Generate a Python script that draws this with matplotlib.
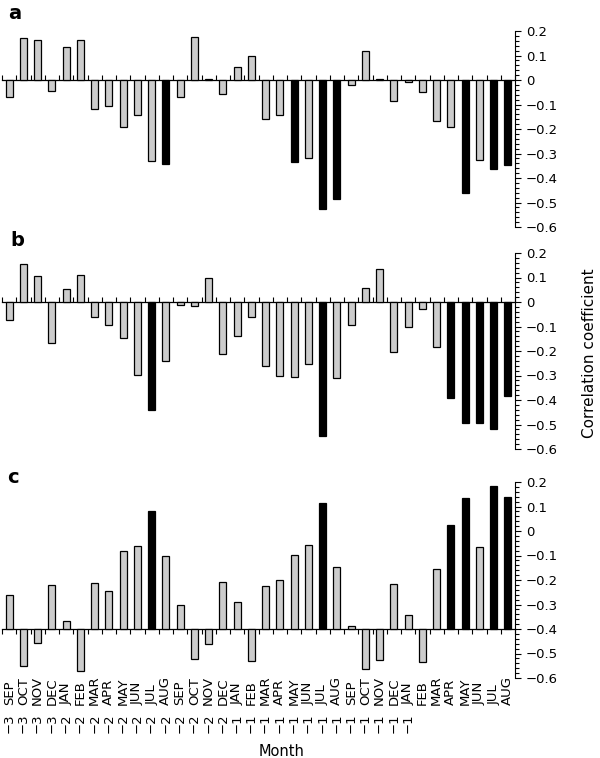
import matplotlib
matplotlib.use('Agg')
import matplotlib.pyplot as plt
import matplotlib.ticker as mticker
from matplotlib.transforms import blended_transform_factory

# month axis: 36 months, year offset printed under the month name
MONTHS = ['SEP', 'OCT', 'NOV', 'DEC',
          'JAN', 'FEB', 'MAR', 'APR', 'MAY', 'JUN', 'JUL', 'AUG', 'SEP', 'OCT', 'NOV', 'DEC',
          'JAN', 'FEB', 'MAR', 'APR', 'MAY', 'JUN', 'JUL', 'AUG', 'SEP', 'OCT', 'NOV', 'DEC',
          'JAN', 'FEB', 'MAR', 'APR', 'MAY', 'JUN', 'JUL', 'AUG']
YEARS = ['−3'] * 4 + ['−2'] * 12 + ['−1'] * 13 + [''] * 7

# correlation coefficients
CORR_A = [-0.07, 0.17, 0.163, -0.045, 0.135, 0.163, -0.118, -0.106, -0.193, -0.143,
          -0.331, -0.344, -0.069, 0.175, 0.005, -0.057, 0.053, 0.098, -0.159, -0.143,
          -0.336, -0.318, -0.528, -0.487, -0.02, 0.118, 0.005, -0.087, -0.008, -0.049,
          -0.167, -0.193, -0.463, -0.328, -0.365, -0.348]
CORR_B = [-0.074, 0.156, 0.107, -0.168, 0.053, 0.111, -0.061, -0.094, -0.148, -0.299,
          -0.44, -0.242, -0.012, -0.016, 0.098, -0.213, -0.139, -0.061, -0.262, -0.303,
          -0.307, -0.254, -0.545, -0.311, -0.094, 0.057, 0.135, -0.205, -0.102, -0.029,
          -0.184, -0.391, -0.493, -0.493, -0.52, -0.383]
CORR_C = [-0.262, -0.551, -0.457, -0.222, -0.369, -0.571, -0.214, -0.246, -0.083, -0.062,
          0.082, -0.103, -0.303, -0.524, -0.46, -0.21, -0.291, -0.531, -0.226, -0.201,
          -0.099, -0.057, 0.114, -0.148, -0.389, -0.563, -0.527, -0.218, -0.344, -0.533,
          -0.156, 0.024, 0.135, -0.067, 0.184, 0.139]

# months with significant correlation (black bars)
SIG_A = [11, 20, 22, 23, 32, 34, 35]
SIG_B = [10, 22, 31, 32, 33, 34, 35]
SIG_C = [10, 22, 31, 32, 34, 35]

BASE = [0.0, 0.0, -0.4]          # line the bars hang from in each panel
YTICKS = [0.2, 0.1, 0.0, -0.1, -0.2, -0.3, -0.4, -0.5, -0.6]
PANELS = ['a', 'b', 'c']

GREY = '#cccccc'
plt.rcParams['font.family'] = ['DejaVu Sans']

W, H = 600, 758
fig = plt.figure(figsize=(W / 100, H / 100), dpi=100)

tops = [31, 253, 482]          # pixel row of 0.2 for each panel
ax_h = 196
x0, x1 = 2, 515

data = [(CORR_A, SIG_A), (CORR_B, SIG_B), (CORR_C, SIG_C)]
axes = []
for k, (vals, sig) in enumerate(data):
    ax = fig.add_axes([x0 / W, 1 - (tops[k] + ax_h) / H, (x1 - x0) / W, ax_h / H])
    axes.append(ax)
    base = BASE[k]
    n = len(vals)
    idx = list(range(n))
    colors = ['black' if i in sig else GREY for i in idx]
    ax.bar(idx, [v - base for v in vals], bottom=base, width=0.5,
           color=colors, edgecolor='black', linewidth=0.9, zorder=3)

    ax.set_xlim(-0.5, n - 0.5)
    ax.set_ylim(-0.6, 0.2)

    for s in ['left', 'top']:
        ax.spines[s].set_visible(False)
    ax.spines['bottom'].set_position(('data', base))
    ax.spines['bottom'].set_linewidth(0.9)
    ax.spines['right'].set_linewidth(0.8)

    ax.set_xticks([i - 0.5 for i in range(n + 1)])
    ax.tick_params(axis='x', direction='in' if base == 0 else 'out',
                   length=3.6, width=0.8, labelbottom=False)

    ax.yaxis.tick_right()
    ax.yaxis.set_major_locator(mticker.FixedLocator(YTICKS))
    ax.yaxis.set_major_formatter(mticker.FixedFormatter(
        [f'{round(v, 1):g}'.replace('-', '−') for v in YTICKS]))
    ax.yaxis.set_minor_locator(mticker.MultipleLocator(0.02))
    ax.tick_params(axis='y', which='major', direction='out', length=4.5, width=0.8,
                   pad=3.5, labelsize=9.5)
    ax.tick_params(axis='y', which='minor', direction='out', length=2.8, width=0.8)

    fig.text([8, 10, 7][k] / W, 1 - [19, 246, 483][k] / H, PANELS[k],
             fontsize=14, fontweight='bold', va='baseline', ha='left')

# month labels under the bottom panel: month name, then year offset below it
axc = axes[-1]
tr = blended_transform_factory(axc.transData, fig.transFigure)
for i, (m, yr) in enumerate(zip(MONTHS, YEARS)):
    axc.text(i, 1 - 705 / H, m, transform=tr, rotation=90, rotation_mode='anchor',
             ha='left', va='center', fontsize=9.5, clip_on=False)
    if yr:
        axc.text(i, 1 - 733 / H, yr, transform=tr, rotation=90, rotation_mode='anchor',
                 ha='left', va='center', fontsize=9.5, clip_on=False)

fig.text(590 / W, 1 - 353 / H, 'Correlation coefficient', rotation=90,
         ha='center', va='center', fontsize=11)
fig.text(282 / W, 1 - 751 / H, 'Month', ha='center', va='center', fontsize=10.5)

fig.savefig('out.png', dpi=100)
plt.close(fig)
